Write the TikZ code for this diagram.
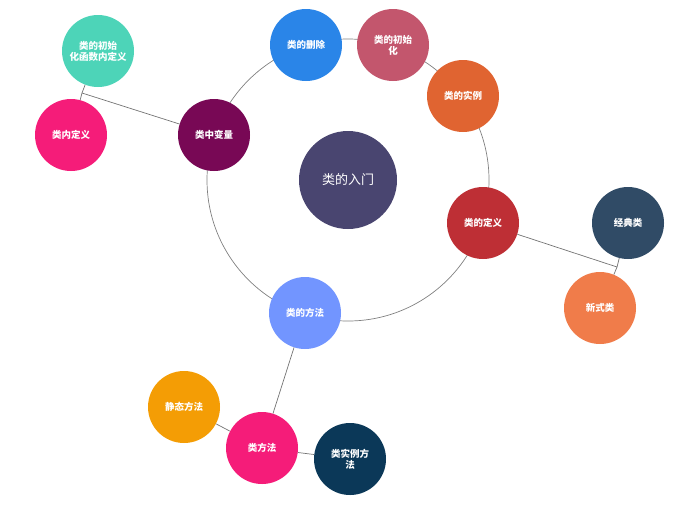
\documentclass[tikz,border=0pt]{standalone}
\usepackage{fontspec}
\setmainfont{Noto Sans CJK SC}
\usetikzlibrary{calc}
\definecolor{cIntro}{RGB}{73,69,112}
\definecolor{cVars}{RGB}{120,8,85}
\definecolor{cDel}{RGB}{42,133,232}
\definecolor{cInit}{RGB}{195,86,109}
\definecolor{cInst}{RGB}{224,100,49}
\definecolor{cDefn}{RGB}{190,47,53}
\definecolor{cMeth}{RGB}{114,149,255}
\definecolor{cTeal}{RGB}{77,212,184}
\definecolor{cPink}{RGB}{245,28,121}
\definecolor{cSlate}{RGB}{48,75,102}
\definecolor{cCoral}{RGB}{240,124,74}
\definecolor{cAmber}{RGB}{244,157,5}
\definecolor{cNavy}{RGB}{11,56,88}
\tikzset{
    topic/.style={circle,fill=#1,minimum size=98pt,inner sep=0pt,text=white,font=\fontsize{13}{15}\selectfont},
    subtopic/.style={circle,fill=#1,minimum size=72pt,inner sep=0pt,text=white,align=center,font=\bfseries\fontsize{9.5}{11}\selectfont},
    ring/.style={gray,line width=0.7pt},
    link/.style={gray!90!black,line width=0.7pt}
}
\begin{document}
\begin{tikzpicture}[x=1pt,y=-1pt]
\useasboundingbox (0,0) rectangle (684,504);
\coordinate (hub) at (348,180);
\draw[ring] (hub) circle[radius=141pt];
\node[topic=cIntro] (intro) at (hub) {类的入门};
\node[subtopic=cVars] (vars) at (214,135) {类中变量};
\node[subtopic=cDel] (del) at (306,45) {类的删除};
\node[subtopic=cInit] (init) at (393,45) {类的初始\\化};
\node[subtopic=cInst] (inst) at (463,96) {类的实例};
\node[subtopic=cDefn] (defn) at (483,223) {类的定义};
\node[subtopic=cMeth] (meth) at (305,313) {类的方法};
\node[subtopic=cTeal] (initfn) at (98,51) {类的初始\\化函数内定义};
\node[subtopic=cPink] (inner) at (71,135) {类内定义};
\node[subtopic=cSlate] (classic) at (628,223) {经典类};
\node[subtopic=cCoral] (newstyle) at (600,308) {新式类};
\node[subtopic=cAmber] (static) at (184,407) {静态方法};
\node[subtopic=cPink] (clsm) at (262,448) {类方法};
\node[subtopic=cNavy] (instm) at (350,459) {类实例方\\法};
% branches
\coordinate (j1) at (82,93);
\coordinate (j2) at (617,267);
\draw[link] (vars)--(j1);
\draw[link] (j1)--(initfn);
\draw[link] (j1)--(inner);
\draw[link] (defn)--(j2);
\draw[link] (j2)--(classic);
\draw[link] (j2)--(newstyle);
\draw[link] (meth)--(clsm);
\draw[link] (clsm)--(static);
\draw[link] (clsm)--(instm);
\end{tikzpicture}
\end{document}
